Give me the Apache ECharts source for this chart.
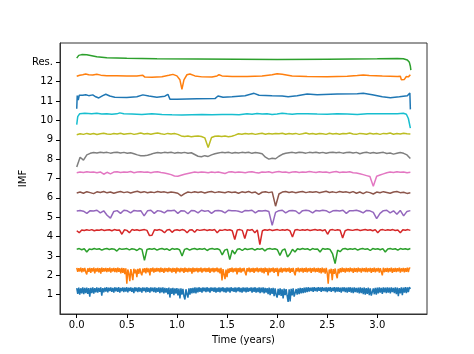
<!DOCTYPE html>
<html>
<head>
<meta charset="utf-8">
<script src="https://cdn.jsdelivr.net/npm/echarts@6/dist/echarts.min.js"></script>
<style>
  html, body { margin: 0; padding: 0; background: #fff; }
  #chart { width: 474px; height: 354px; }
</style>
</head>
<body>
<div id="chart"></div>
<script>
// time span of the record (years)
const T_END = 3.33;

// axis ticks
const xTicks = [0, 0.5, 1, 1.5, 2, 2.5, 3];
const yTicks = [1, 2, 3, 4, 5, 6, 7, 8, 9, 10, 11, 12, 13];
const yTickLabels = ['1', '2', '3', '4', '5', '6', '7', '8', '9', '10', '11', '12', 'Res.'];

// smooth components, read as [time, value] points
const res = [[0, 13.22], [0.02, 13.36], [0.05, 13.4], [0.1, 13.39], [0.15, 13.34], [0.2, 13.29], [0.3, 13.24],
  [0.5, 13.21], [0.8, 13.18], [1.2, 13.17], [1.6, 13.16], [2.0, 13.15], [2.5, 13.16], [3.0, 13.18],
  [3.2, 13.2], [3.26, 13.19], [3.3, 13.12], [3.32, 13.0], [3.33, 12.8], [3.335, 12.6]];

const imf12 = [[0, 12.28], [0.03, 12.33], [0.06, 12.36], [0.09, 12.4], [0.12, 12.36], [0.16, 12.35], [0.2, 12.38],
  [0.24, 12.34], [0.3, 12.31], [0.4, 12.31], [0.5, 12.3], [0.6, 12.3], [0.66, 12.33], [0.68, 12.24], [0.75, 12.23],
  [0.85, 12.26], [0.92, 12.33], [0.96, 12.38], [1.0, 12.3], [1.03, 12.1], [1.05, 11.6], [1.07, 12.1], [1.1, 12.36],
  [1.13, 12.4], [1.18, 12.3], [1.25, 12.25], [1.35, 12.24], [1.4, 12.3], [1.42, 12.36], [1.45, 12.3], [1.55, 12.27],
  [1.7, 12.27], [1.85, 12.3], [1.95, 12.36], [2.0, 12.41], [2.05, 12.38], [2.15, 12.3], [2.3, 12.27], [2.5, 12.26],
  [2.7, 12.28], [2.8, 12.32], [2.86, 12.35], [2.92, 12.32], [3.05, 12.29], [3.2, 12.27], [3.23, 12.28], [3.24, 12.1],
  [3.27, 12.12], [3.29, 12.27], [3.31, 12.25], [3.33, 12.36]];

const imf11 = [[0, 10.6], [0.005, 11.28], [0.015, 11.05], [0.025, 11.3], [0.06, 11.3], [0.09, 11.33], [0.12, 11.28],
  [0.16, 11.32], [0.19, 11.22], [0.22, 11.16], [0.26, 11.28], [0.29, 11.35], [0.33, 11.26], [0.38, 11.2], [0.5, 11.19],
  [0.6, 11.22], [0.66, 11.32], [0.72, 11.26], [0.8, 11.2], [0.88, 11.25], [0.91, 11.35], [0.93, 11.1], [1.0, 11.1],
  [1.2, 11.12], [1.38, 11.13], [1.41, 11.26], [1.46, 11.2], [1.55, 11.22], [1.68, 11.28], [1.77, 11.4], [1.82, 11.3],
  [1.95, 11.27], [2.05, 11.26], [2.11, 11.22], [2.2, 11.27], [2.3, 11.36], [2.4, 11.33], [2.6, 11.36], [2.8, 11.38],
  [2.86, 11.4], [2.95, 11.33], [3.05, 11.22], [3.13, 11.17], [3.22, 11.22], [3.3, 11.27], [3.325, 11.42], [3.33, 10.57]];

const imf10 = [[0, 9.78], [0.01, 10.2], [0.03, 10.35], [0.08, 10.37], [0.15, 10.35], [0.2, 10.37], [0.25, 10.33],
  [0.3, 10.34], [0.35, 10.32], [0.4, 10.34], [0.43, 10.39], [0.47, 10.34], [0.55, 10.33], [0.65, 10.31], [0.75, 10.34],
  [0.85, 10.31], [0.95, 10.29], [1.05, 10.28], [1.15, 10.29], [1.25, 10.3], [1.35, 10.29], [1.45, 10.31], [1.55, 10.3],
  [1.62, 10.29], [1.7, 10.34], [1.75, 10.32], [1.8, 10.36], [1.85, 10.33], [1.9, 10.35], [1.95, 10.31], [2.0, 10.33],
  [2.05, 10.37], [2.1, 10.34], [2.15, 10.32], [2.2, 10.34], [2.3, 10.35], [2.4, 10.33], [2.5, 10.32], [2.6, 10.34],
  [2.7, 10.33], [2.8, 10.31], [2.9, 10.34], [3.0, 10.35], [3.1, 10.34], [3.2, 10.35], [3.26, 10.37], [3.29, 10.32],
  [3.31, 10.1], [3.33, 9.6]];

// noisy components, evenly sampled from 0 to T_END
const imf9 = [9.26, 9.31, 9.28, 9.33, 9.29, 9.32, 9.27, 9.31, 9.34, 9.30,
  9.28, 9.32, 9.30, 9.34, 9.29, 9.31, 9.33, 9.28, 9.31, 9.35,
  9.30, 9.33, 9.29, 9.32, 9.35, 9.31, 9.28, 9.33, 9.30, 9.32,
  9.28, 9.20, 9.17, 9.19, 9.16, 9.18, 9.20, 9.17, 9.10, 8.60,
  9.12, 9.18, 9.20, 9.17, 9.19, 9.16, 9.18, 9.24, 9.31, 9.29,
  9.33, 9.30, 9.32, 9.28, 9.31, 9.34, 9.29, 9.32, 9.30, 9.33,
  9.31, 9.34, 9.29, 9.32, 9.30, 9.33, 9.28, 9.31, 9.35, 9.30,
  9.32, 9.29, 9.33, 9.31, 9.28, 9.34, 9.30, 9.32, 9.29, 9.33,
  9.31, 9.35, 9.30, 9.28, 9.33, 9.31, 9.29, 9.34, 9.30, 9.32,
  9.28, 9.33, 9.31, 9.35, 9.29, 9.32, 9.30, 9.34, 9.31, 9.30];

const imf8 = [7.60, 8.10, 7.95, 8.22, 8.30, 8.34, 8.32, 8.36, 8.33, 8.35,
  8.31, 8.34, 8.36, 8.32, 8.35, 8.30, 8.33, 8.28, 8.22, 8.18,
  8.17, 8.20, 8.25, 8.31, 8.34, 8.32, 8.35, 8.33, 8.36, 8.31,
  8.34, 8.32, 8.35, 8.30, 8.33, 8.24, 8.15, 8.12, 8.18, 8.14,
  8.22, 8.28, 8.32, 8.35, 8.33, 8.36, 8.31, 8.34, 8.32, 8.35,
  8.33, 8.36, 8.30, 8.34, 8.32, 8.28, 8.10, 8.00, 8.05, 8.02,
  8.15, 8.25, 8.30, 8.33, 8.35, 8.32, 8.36, 8.34, 8.31, 8.35,
  8.33, 8.36, 8.32, 8.35, 8.30, 8.34, 8.36, 8.33, 8.35, 8.31,
  8.34, 8.36, 8.32, 8.35, 8.28, 8.33, 8.36, 8.31, 8.34, 8.30,
  8.33, 8.35, 8.29, 8.32, 8.26, 8.30, 8.34, 8.30, 8.22, 8.03];

const imf7 = [7.30, 7.34, 7.31, 7.35, 7.32, 7.33, 7.30, 7.34, 7.22, 7.32,
  7.24, 7.33, 7.35, 7.31, 7.34, 7.32, 7.36, 7.30, 7.33, 7.35,
  7.32, 7.34, 7.30, 7.33, 7.35, 7.31, 7.28, 7.25, 7.20, 7.13,
  7.12, 7.17, 7.22, 7.26, 7.30, 7.33, 7.31, 7.34, 7.32, 7.30,
  7.33, 7.31, 7.34, 7.30, 7.26, 7.33, 7.35, 7.31, 7.34, 7.32,
  7.30, 7.33, 7.35, 7.31, 7.28, 7.34, 7.32, 7.35, 7.30, 7.33,
  7.36, 7.32, 7.34, 7.30, 7.33, 7.35, 7.31, 7.34, 7.32, 7.36,
  7.33, 7.31, 7.35, 7.32, 7.34, 7.30, 7.33, 7.36, 7.31, 7.34,
  7.32, 7.35, 7.30, 7.28, 7.25, 7.20, 7.15, 7.10, 6.60, 7.12,
  7.18, 7.24, 7.30, 7.33, 7.31, 7.35, 7.32, 7.34, 7.30, 7.32];

const imf6 = [6.25, 6.30, 6.24, 6.32, 6.27, 6.22, 6.31, 6.28, 6.33, 6.26,
  6.30, 6.24, 6.29, 6.33, 6.27, 6.31, 6.25, 6.30, 6.34, 6.28,
  6.32, 6.26, 6.30, 6.27, 6.33, 6.29, 6.31, 6.26, 6.30, 6.28,
  6.24, 6.10, 6.22, 6.30, 6.27, 6.32, 6.28, 6.31, 6.25, 6.30,
  6.33, 6.27, 6.31, 6.29, 6.26, 6.32, 6.28, 6.30, 6.24, 6.31,
  6.28, 6.33, 6.26, 6.30, 6.18, 6.29, 6.32, 6.27, 6.31, 5.57,
  6.20, 6.30, 6.33, 6.28, 6.31, 6.26, 6.30, 6.33, 6.27, 6.31,
  6.29, 6.32, 6.26, 6.30, 6.34, 6.28, 6.31, 6.27, 6.33, 6.29,
  6.31, 6.26, 6.32, 6.24, 6.30, 6.22, 6.31, 6.27, 6.20, 6.30,
  6.26, 6.32, 6.28, 6.24, 6.30, 6.33, 6.27, 6.29, 6.23, 6.26];

const imf5 = [5.32, 5.35, 5.31, 5.20, 5.34, 5.32, 5.36, 5.22, 5.33, 5.10,
  4.95, 5.30, 5.34, 5.20, 5.36, 5.33, 5.22, 5.35, 5.32, 5.34,
  5.07, 5.33, 5.36, 5.20, 5.34, 5.31, 5.22, 5.35, 5.33, 5.36,
  5.20, 5.34, 5.32, 5.18, 5.35, 5.33, 5.22, 5.36, 5.31, 5.34,
  5.20, 5.33, 5.35, 5.32, 5.22, 5.36, 5.33, 5.34, 5.31, 5.25,
  5.35, 5.33, 5.36, 5.22, 5.34, 5.32, 5.35, 5.30, 4.58, 5.25,
  5.34, 5.36, 5.22, 5.33, 5.35, 5.32, 5.18, 5.34, 5.36, 5.33,
  5.22, 5.35, 5.32, 5.36, 5.34, 5.24, 5.33, 5.35, 5.32, 5.36,
  5.20, 5.34, 5.33, 5.36, 5.31, 5.22, 5.35, 5.33, 5.25, 4.93,
  5.20, 5.34, 5.36, 5.22, 5.33, 5.15, 5.35, 5.07, 5.30, 5.34];

const imf4 = [4.30, 4.20, 4.34, 4.31, 4.35, 4.32, 4.36, 4.30, 4.34, 4.33,
  4.36, 4.31, 4.34, 4.35, 4.30, 4.36, 4.33, 4.34, 4.12, 4.35,
  4.32, 4.20, 4.36, 4.33, 4.35, 4.31, 4.34, 4.36, 4.32, 4.05,
  4.07, 4.35, 4.33, 4.36, 4.31, 4.20, 4.34, 4.36, 4.22, 4.33,
  4.35, 4.31, 4.36, 4.33, 4.20, 4.34, 4.35, 4.22, 4.36, 4.32,
  4.34, 4.36, 4.31, 4.35, 4.33, 4.36, 4.20, 4.34, 4.32, 4.36,
  4.33, 4.35, 4.30, 3.85, 4.34, 4.36, 4.32, 3.90, 4.35, 4.33,
  4.36, 4.20, 4.34, 3.59, 4.30, 4.35, 4.33, 4.36, 4.31, 4.34,
  4.36, 4.32, 4.35, 4.33, 4.36, 4.30, 3.98, 4.34, 4.36, 4.32,
  4.35, 4.33, 4.36, 4.31, 4.34, 4.36, 4.33, 4.35, 4.30, 4.36,
  4.12, 4.34, 4.36, 4.32, 4.35, 4.33, 3.93, 4.30, 4.36, 4.34,
  4.32, 4.35, 4.36, 4.31, 4.34, 4.36, 4.33, 4.35, 4.30, 4.36,
  4.20, 4.34, 4.36, 4.32, 4.35, 4.33, 4.36, 4.31, 4.34, 4.20,
  4.35, 4.33, 4.36, 4.32];

const imf3 = [3.35, 3.38, 3.32, 3.37, 3.20, 3.36, 3.33, 3.38, 3.34, 3.37,
  3.30, 3.36, 3.38, 3.33, 3.37, 3.35, 3.25, 3.38, 3.34, 3.36,
  3.38, 3.31, 3.37, 3.35, 3.28, 3.38, 3.34, 2.77, 3.33, 3.37,
  3.35, 3.38, 3.30, 3.36, 3.38, 3.33, 3.37, 3.29, 3.38, 3.35,
  3.37, 3.32, 3.00, 3.34, 3.38, 3.30, 3.36, 3.38, 3.33, 3.37,
  3.35, 3.38, 3.28, 3.36, 3.38, 3.34, 3.37, 3.32, 3.05, 3.30,
  3.35, 2.81, 3.30, 3.10, 3.34, 3.37, 3.28, 3.38, 3.33, 3.36,
  3.38, 3.30, 3.37, 3.35, 3.38, 3.26, 3.36, 3.38, 3.34, 3.37,
  3.32, 3.03, 3.30, 3.36, 2.95, 3.10, 3.34, 3.20, 3.37, 3.33,
  3.38, 3.35, 3.37, 3.30, 3.38, 3.34, 3.36, 3.20, 3.38, 3.35,
  3.37, 3.33, 3.10, 2.60, 3.30, 3.22, 3.36, 3.38, 3.33, 3.37,
  3.35, 3.38, 3.30, 3.36, 3.38, 3.34, 3.37, 3.28, 3.38, 3.35,
  3.37, 3.32, 3.38, 3.20, 3.36, 3.38, 3.34, 3.37, 3.30, 3.38,
  3.35, 3.37, 3.33, 3.38];

// one sample every 0.01 years
const imf2 = [2.38, 2.18, 2.36, 2.20, 2.39, 2.15, 2.37, 2.19, 2.38, 2.16,
  2.05, 2.36, 2.18, 2.38, 2.12, 2.37, 2.20, 2.39, 2.10, 2.36,
  2.19, 2.38, 2.15, 2.37, 2.08, 2.39, 2.18, 2.36, 2.20, 2.38,
  2.16, 2.37, 2.19, 2.39, 2.14, 2.36, 2.20, 2.38, 2.17, 2.37,
  2.15, 2.39, 2.18, 2.36, 2.10, 2.38, 2.12, 2.37, 2.06, 2.36,
  1.57, 2.30, 2.08, 1.70, 2.32, 2.05, 1.75, 2.34, 2.10, 2.30,
  1.90, 2.33, 2.08, 2.36, 2.12, 2.00, 2.35, 2.15, 2.37, 2.10,
  2.38, 2.16, 2.36, 2.00, 2.37, 2.19, 2.39, 2.14, 2.36, 2.18,
  2.38, 2.20, 2.37, 2.15, 2.39, 2.18, 2.36, 2.12, 2.38, 2.19,
  2.37, 2.16, 2.39, 2.20, 2.36, 2.14, 2.38, 2.18, 2.37, 2.10,
  2.39, 2.19, 2.36, 2.15, 2.38, 2.20, 2.37, 2.13, 2.39, 2.18,
  2.36, 2.16, 2.38, 2.19, 2.37, 2.08, 2.39, 2.17, 2.36, 2.20,
  2.38, 2.15, 2.37, 2.19, 2.39, 2.14, 2.36, 2.20, 2.38, 2.16,
  2.37, 2.18, 2.39, 2.12, 2.36, 2.19, 2.38, 2.15, 2.37, 2.20,
  2.39, 2.16, 2.36, 2.10, 2.38, 1.74, 2.32, 2.05, 1.80, 2.30,
  1.90, 2.34, 2.12, 2.37, 2.18, 2.39, 2.15, 2.36, 2.19, 2.38,
  2.05, 2.37, 2.17, 2.39, 2.14, 2.36, 2.20, 2.38, 2.16, 2.00,
  2.37, 2.19, 2.39, 2.15, 2.36, 2.18, 2.38, 2.12, 2.37, 2.20,
  2.39, 2.16, 2.36, 2.19, 2.38, 2.14, 2.37, 2.10, 2.39, 2.18,
  2.36, 2.00, 2.38, 2.15, 2.37, 2.19, 2.39, 2.13, 2.36, 2.18,
  2.38, 1.95, 2.35, 2.17, 2.39, 2.14, 2.36, 2.20, 2.38, 2.16,
  2.37, 2.19, 2.39, 2.12, 2.36, 2.18, 2.38, 2.15, 2.00, 2.37,
  2.20, 2.39, 2.16, 2.36, 2.19, 2.38, 2.14, 2.37, 2.18, 2.39,
  2.15, 2.36, 2.20, 2.38, 2.12, 2.37, 2.19, 2.39, 2.16, 2.36,
  2.18, 2.38, 2.14, 2.37, 2.10, 2.39, 2.15, 2.36, 2.08, 2.38,
  2.12, 1.57, 2.30, 2.10, 2.34, 1.75, 2.32, 2.08, 2.35, 2.05,
  1.85, 2.33, 2.10, 2.37, 2.15, 2.39, 2.18, 2.36, 2.14, 2.38,
  2.19, 2.37, 2.16, 2.39, 2.20, 2.36, 2.13, 2.38, 2.18, 2.37,
  2.15, 2.39, 2.19, 2.36, 2.14, 2.38, 2.20, 2.37, 2.17, 2.39,
  2.16, 2.36, 2.19, 2.38, 2.12, 2.37, 2.18, 2.39, 2.15, 2.36,
  2.20, 2.38, 2.14, 2.37, 2.19, 2.00, 2.39, 2.16, 2.36, 2.18,
  2.38, 2.15, 2.37, 2.19, 2.39, 2.13, 2.36, 2.18, 2.38, 2.16,
  2.37, 2.20, 2.39, 2.14, 2.36, 2.19, 2.38, 2.15, 2.37, 2.18,
  2.39, 2.16, 2.38, 2.37];

// one sample every 0.01 years
const imf1 = [1.34, 1.04, 1.36, 1.00, 1.33, 1.06, 1.37, 1.02, 1.35, 1.08,
  1.36, 1.04, 1.34, 0.90, 1.35, 1.08, 1.37, 1.05, 1.33, 1.12,
  1.37, 1.10, 1.35, 1.14, 1.38, 0.95, 1.34, 1.12, 1.36, 1.16,
  1.38, 1.12, 1.36, 1.18, 1.37, 1.14, 1.35, 1.10, 1.38, 1.17,
  1.36, 1.15, 1.38, 1.11, 1.35, 1.18, 1.37, 1.13, 1.36, 1.16,
  1.38, 1.12, 1.36, 1.19, 1.37, 1.14, 1.35, 1.08, 1.38, 1.17,
  1.36, 1.13, 1.38, 1.16, 1.35, 1.10, 1.37, 1.18, 1.36, 1.12,
  1.38, 1.15, 1.35, 1.11, 1.37, 1.17, 1.36, 1.13, 1.38, 1.10,
  1.35, 1.14, 1.37, 1.08, 1.36, 1.12, 1.38, 1.06, 1.35, 1.10,
  1.34, 1.02, 1.36, 0.85, 1.33, 1.04, 1.35, 0.98, 1.32, 1.05,
  1.34, 0.96, 1.31, 0.80, 1.33, 1.00, 1.30, 0.92, 0.75, 1.28,
  1.02, 0.85, 1.32, 1.00, 1.34, 1.06, 1.35, 1.08, 1.37, 1.06,
  1.36, 1.12, 1.38, 1.15, 1.35, 1.10, 1.37, 1.17, 1.36, 1.13,
  1.38, 1.16, 1.35, 1.11, 1.37, 1.18, 1.36, 1.14, 1.38, 1.10,
  1.35, 1.15, 1.37, 1.12, 1.36, 1.17, 1.38, 1.13, 1.35, 1.10,
  1.37, 1.16, 1.36, 1.11, 1.38, 1.18, 1.35, 1.14, 1.37, 1.12,
  1.36, 1.17, 1.38, 1.13, 1.35, 1.10, 1.37, 1.16, 1.36, 1.12,
  1.38, 1.14, 1.35, 1.18, 1.37, 1.11, 1.36, 1.15, 1.38, 1.10,
  1.35, 1.13, 1.37, 1.08, 1.36, 1.12, 1.38, 1.06, 1.35, 1.10,
  1.34, 1.03, 1.36, 0.98, 1.33, 1.04, 1.35, 0.92, 1.32, 1.00,
  0.85, 1.30, 0.98, 1.33, 0.94, 1.28, 0.80, 1.31, 0.98, 1.29,
  0.93, 0.62, 1.27, 0.65, 1.30, 0.96, 1.32, 0.90, 0.85, 1.29,
  1.00, 1.33, 1.03, 1.35, 1.06, 1.34, 1.08, 1.36, 1.10, 1.37,
  1.13, 1.38, 1.16, 1.36, 1.18, 1.37, 1.15, 1.39, 1.19, 1.36,
  1.16, 1.38, 1.20, 1.37, 1.14, 1.39, 1.18, 1.36, 1.17, 1.38,
  1.13, 1.37, 1.19, 1.38, 1.15, 1.36, 1.18, 1.39, 1.12, 1.37,
  1.16, 1.38, 1.14, 1.36, 1.10, 1.37, 1.17, 1.38, 1.13, 1.36,
  1.11, 1.37, 1.15, 1.38, 1.10, 1.36, 1.08, 1.37, 1.13, 1.35,
  1.10, 1.36, 1.06, 1.38, 1.08, 1.35, 1.03, 1.37, 1.00, 1.34,
  1.04, 1.36, 0.98, 1.33, 0.95, 0.88, 1.32, 1.02, 1.35, 1.00,
  1.36, 1.06, 1.38, 1.10, 1.35, 1.04, 1.37, 1.12, 1.36, 1.08,
  1.38, 1.11, 1.36, 1.06, 1.37, 1.13, 1.35, 1.08, 1.38, 1.03,
  1.36, 0.92, 1.34, 1.06, 1.38, 0.98, 1.36, 1.10, 1.39, 1.08,
  1.37, 1.13, 1.39, 1.30];

// matplotlib default colour cycle
const colors = ['#1f77b4', '#ff7f0e', '#2ca02c', '#d62728', '#9467bd',
  '#8c564b', '#e377c2', '#7f7f7f', '#bcbd22', '#17becf'];

// evenly sampled values -> [time, value]
function onGrid(vals) {
  return vals.map((v, i) => [i * T_END / (vals.length - 1), v]);
}

const traces = [
  onGrid(imf1), onGrid(imf2), onGrid(imf3), onGrid(imf4), onGrid(imf5),
  onGrid(imf6), onGrid(imf7), onGrid(imf8), onGrid(imf9),
  imf10, imf11, imf12, res,
];

// plot box and axis ranges
const X_MIN = -0.167, X_MAX = 3.496, Y_MIN = 0, Y_MAX = 14;
const box = { left: 60, top: 43, width: 367, height: 271 };
const xPx = (t) => box.left + (t - X_MIN) / (X_MAX - X_MIN) * box.width;
const yPx = (v) => box.top + (Y_MAX - v) / (Y_MAX - Y_MIN) * box.height;

const xT0 = xTicks[0], xT1 = xTicks[xTicks.length - 1];
const yT0 = yTicks[0], yT1 = yTicks[yTicks.length - 1];

const chart = echarts.init(document.getElementById('chart'));
const font = 'DejaVu Sans';
const frameLine = { color: '#333', width: 1 };
const tickStyle = { show: true, length: 4, lineStyle: { color: '#000', width: 1 } };

const option = {
  animation: false,
  backgroundColor: '#fff',
  grid: [
    // the real plot
    Object.assign({ show: true, borderColor: '#333', borderWidth: 1 }, box),
    // tick carrier spanning exactly the first..last x tick
    { left: xPx(xT0), width: xPx(xT1) - xPx(xT0), top: box.top, height: box.height, show: false },
    // tick carrier spanning exactly the first..last y tick
    { left: box.left, width: box.width, top: yPx(yT1), height: yPx(yT0) - yPx(yT1), show: false },
  ],
  xAxis: [{
    gridIndex: 0,
    type: 'value',
    min: X_MIN,
    max: X_MAX,
    name: 'Time (years)',
    nameLocation: 'middle',
    nameGap: 21,
    nameMoveOverlap: false,
    nameTextStyle: { color: '#000', fontSize: 10, fontFamily: font },
    axisLine: { show: true, onZero: false, lineStyle: frameLine },
    splitLine: { show: false },
    axisTick: { show: false },
    axisLabel: {
      customValues: xTicks,
      margin: 6,
      color: '#000', fontSize: 10, fontFamily: font,
      formatter: (v) => v.toFixed(1),
    },
  }, {
    gridIndex: 1,
    type: 'value',
    min: xT0,
    max: xT1,
    interval: 0.5,
    position: 'bottom',
    axisLine: { show: true, onZero: false, lineStyle: frameLine },
    splitLine: { show: false },
    axisTick: tickStyle,
    axisLabel: { show: false },
  }, {
    gridIndex: 2, type: 'value', min: 0, max: 1, show: false,
  }],
  yAxis: [{
    gridIndex: 0,
    type: 'value',
    min: Y_MIN,
    max: Y_MAX,
    name: 'IMF',
    nameLocation: 'middle',
    nameGap: 32,
    nameMoveOverlap: false,
    nameTextStyle: { color: '#000', fontSize: 10, fontFamily: font },
    axisLine: { show: true, onZero: false, lineStyle: frameLine },
    splitLine: { show: false },
    axisTick: { show: false },
    axisLabel: {
      customValues: yTicks,
      margin: 7,
      color: '#000', fontSize: 10, fontFamily: font,
      formatter: (v) => yTickLabels[yTicks.indexOf(v)] || '',
    },
  }, {
    gridIndex: 1, type: 'value', min: 0, max: 1, show: false,
  }, {
    gridIndex: 2,
    type: 'value',
    min: yT0,
    max: yT1,
    interval: 1,
    position: 'left',
    axisLine: { show: true, onZero: false, lineStyle: frameLine },
    splitLine: { show: false },
    axisTick: tickStyle,
    axisLabel: { show: false },
  }],
  series: traces.map((d, k) => ({
    type: 'line',
    xAxisIndex: 0,
    yAxisIndex: 0,
    data: d,
    showSymbol: false,
    symbol: 'none',
    lineStyle: { width: 1.5, color: colors[k % colors.length] },
    z: 2 + k,
  })).concat([
    { type: 'line', xAxisIndex: 1, yAxisIndex: 1, data: [], silent: true },
    { type: 'line', xAxisIndex: 2, yAxisIndex: 2, data: [], silent: true },
  ]),
};

chart.setOption(option);
</script>
</body>
</html>
